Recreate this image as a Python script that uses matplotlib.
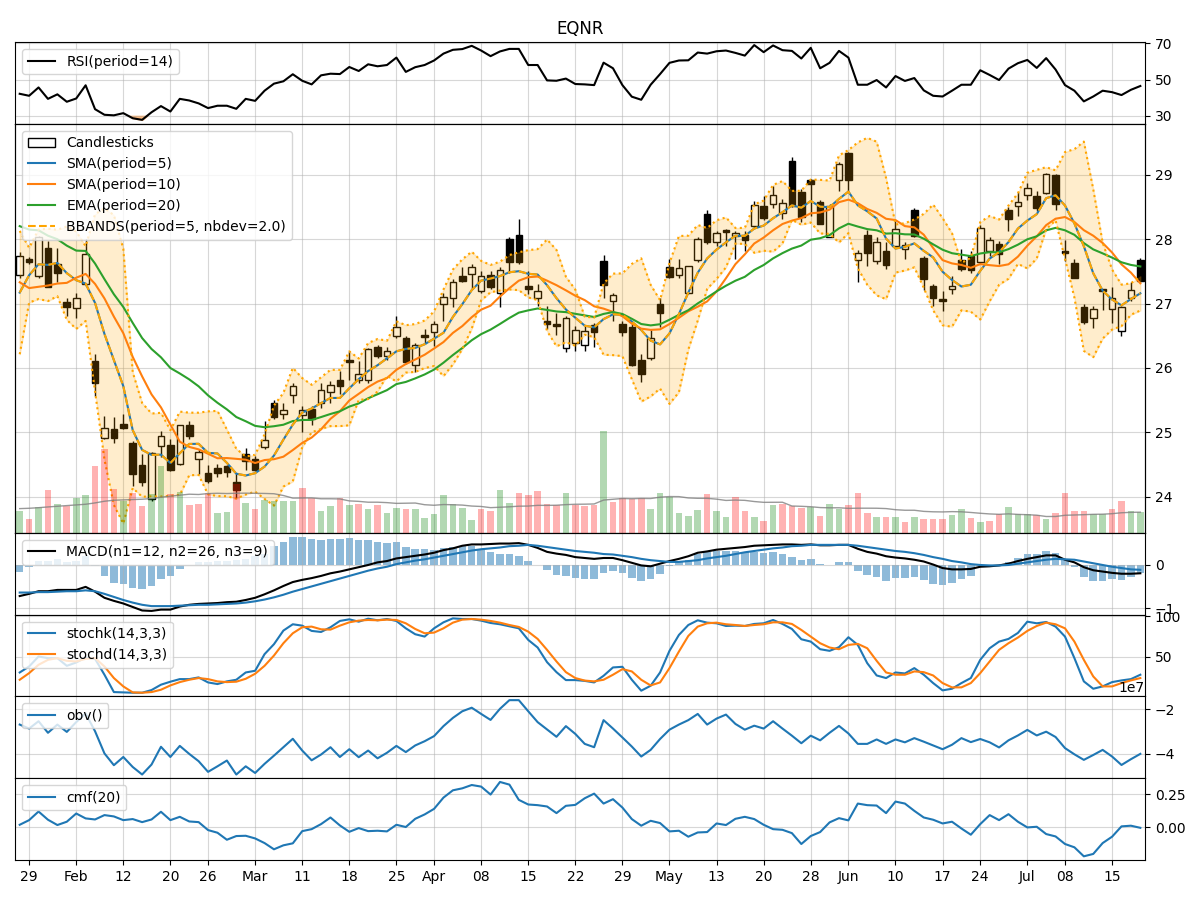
import numpy as np
import pandas as pd
import matplotlib
matplotlib.use("Agg")
import matplotlib.pyplot as plt
from matplotlib.patches import Rectangle, Patch
from matplotlib.lines import Line2D

# ---------------- data ----------------
holidays = ["2024-02-19", "2024-03-29", "2024-05-27", "2024-06-19", "2024-07-04"]
dates = pd.bdate_range("2024-01-26", "2024-07-18", freq="C", holidays=holidays)

open_ = [27.45, 27.69, 27.42, 27.86, 27.62, 27.03, 26.93, 27.30, 26.11, 24.92,
         25.05, 25.13, 24.84, 24.49, 23.96, 24.79, 24.80, 24.51, 25.11, 24.59,
         24.37, 24.44, 24.48, 24.23, 24.66, 24.59, 24.77, 25.45, 25.28, 25.58,
         25.27, 25.36, 25.45, 25.63, 25.82, 26.12, 25.82, 25.82, 26.33, 26.18,
         26.49, 26.47, 26.04, 26.51, 26.56, 26.99, 27.09, 27.43, 27.46, 27.20,
         27.44, 27.16, 28.00, 28.06, 27.28, 27.09, 26.73, 26.68, 26.31, 26.38,
         26.36, 26.66, 27.66, 27.04, 26.69, 26.64, 26.12, 26.16, 26.99, 27.56,
         27.45, 27.16, 27.68, 28.39, 27.96, 28.14, 28.05, 28.06, 28.21, 28.51,
         28.54, 28.40, 29.21, 28.73, 28.92, 28.58, 28.04, 28.92, 29.33, 27.67,
         28.06, 27.66, 27.81, 27.90, 27.85, 28.45, 27.70, 27.28, 27.07, 27.22,
         27.68, 27.74, 27.64, 27.82, 27.92, 28.45, 28.52, 28.68, 28.67, 28.72,
         28.99, 27.82, 27.63, 26.94, 26.77, 27.22, 26.91, 26.58, 27.09, 27.67]
high = [27.80, 27.73, 28.05, 27.97, 27.86, 27.09, 27.17, 28.00, 26.22, 25.26,
        25.24, 25.28, 24.87, 24.66, 24.70, 25.02, 24.89, 25.12, 25.18, 24.74,
        24.50, 24.51, 24.50, 24.37, 24.76, 24.63, 25.18, 25.51, 25.46, 25.76,
        25.41, 25.41, 25.77, 25.80, 25.95, 26.26, 26.11, 26.31, 26.36, 26.32,
        26.80, 26.50, 26.39, 26.60, 26.73, 27.17, 27.38, 27.56, 27.62, 27.51,
        27.51, 27.56, 28.04, 28.31, 27.51, 27.31, 26.96, 26.86, 26.81, 26.65,
        26.65, 26.70, 27.75, 27.17, 26.73, 26.68, 26.21, 26.59, 27.09, 27.69,
        27.69, 27.59, 28.04, 28.45, 28.13, 28.16, 28.13, 28.13, 28.59, 28.67,
        28.83, 28.62, 29.28, 28.78, 28.93, 28.60, 28.54, 29.19, 29.35, 27.83,
        28.14, 28.03, 27.95, 28.28, 27.95, 28.48, 27.74, 27.30, 27.20, 27.43,
        27.84, 27.82, 28.22, 28.03, 27.97, 28.50, 28.73, 28.87, 28.75, 29.02,
        29.01, 27.98, 27.69, 26.99, 26.96, 27.22, 27.25, 26.96, 27.34, 27.70]
low = [27.40, 27.61, 27.40, 27.25, 27.33, 26.81, 26.78, 27.27, 25.56, 24.89,
       24.84, 25.05, 24.17, 24.17, 23.94, 24.61, 24.40, 24.50, 24.89, 24.35,
       24.22, 24.30, 24.30, 23.98, 24.42, 24.40, 24.74, 25.20, 25.20, 25.46,
       25.00, 25.12, 25.38, 25.46, 25.59, 25.82, 25.77, 25.77, 26.16, 26.13,
       26.47, 26.06, 25.93, 26.37, 26.34, 26.73, 26.95, 27.33, 27.22, 27.17,
       27.22, 26.95, 27.48, 27.61, 27.15, 26.96, 26.60, 26.51, 26.24, 26.26,
       26.26, 26.33, 27.09, 26.73, 26.50, 26.03, 25.78, 26.13, 26.63, 27.40,
       27.40, 27.15, 27.64, 27.92, 27.90, 27.90, 27.69, 27.82, 28.18, 28.29,
       28.48, 28.31, 28.50, 28.26, 28.36, 28.23, 28.03, 28.75, 28.73, 27.33,
       27.59, 27.61, 27.53, 27.88, 27.69, 28.03, 27.21, 26.96, 26.89, 27.15,
       27.51, 27.48, 27.62, 27.74, 27.62, 28.12, 28.36, 28.60, 28.44, 28.70,
       28.45, 27.66, 27.39, 26.69, 26.62, 26.90, 26.70, 26.50, 27.04, 27.33]
close = [27.74, 27.64, 28.03, 27.26, 27.48, 26.95, 27.09, 27.77, 25.76, 25.07,
         24.92, 25.07, 24.35, 24.23, 24.68, 24.94, 24.42, 25.11, 24.95, 24.69,
         24.24, 24.37, 24.38, 24.11, 24.55, 24.42, 24.88, 25.24, 25.34, 25.72,
         25.35, 25.20, 25.66, 25.74, 25.72, 26.10, 25.91, 26.29, 26.19, 26.26,
         26.64, 26.10, 26.36, 26.48, 26.69, 27.10, 27.33, 27.35, 27.57, 27.43,
         27.26, 27.52, 27.65, 27.65, 27.23, 27.20, 26.69, 26.65, 26.77, 26.59,
         26.58, 26.56, 27.29, 27.14, 26.56, 26.05, 25.91, 26.46, 26.85, 27.41,
         27.55, 27.58, 28.00, 27.96, 28.10, 28.11, 28.09, 27.99, 28.53, 28.33,
         28.68, 28.56, 28.52, 28.35, 28.85, 28.24, 28.52, 29.16, 28.92, 27.78,
         27.78, 27.96, 27.60, 28.15, 27.91, 28.05, 27.38, 27.09, 27.04, 27.27,
         27.54, 27.52, 28.17, 27.99, 27.77, 28.32, 28.57, 28.79, 28.49, 29.01,
         28.54, 27.78, 27.40, 26.72, 26.91, 27.19, 27.09, 26.95, 27.21, 27.35]
# closes of the nine sessions before the window (for the moving averages)
pre_close = [28.54, 27.83, 27.06, 27.18, 26.84, 26.29, 27.18, 27.31, 27.33]
ema20_seed = 28.25

volume_m = [2.6, 1.7, 3.1, 5.1, 3.4, 3.2, 4.2, 4.5, 8.0, 10.0,
            5.2, 3.8, 4.7, 3.2, 4.6, 8.0, 4.6, 4.9, 3.3, 3.4,
            4.8, 2.4, 2.5, 5.8, 3.6, 2.8, 3.9, 3.8, 3.8, 3.8,
            5.4, 4.1, 2.6, 3.2, 4.2, 3.3, 3.5, 2.9, 3.3, 2.4,
            3.0, 2.8, 2.9, 1.8, 2.3, 4.5, 3.4, 3.0, 1.5, 2.8,
            2.6, 5.1, 3.6, 4.7, 4.5, 5.0, 3.4, 3.3, 4.7, 3.3,
            3.2, 3.3, 12.2, 3.7, 4.1, 4.0, 4.1, 2.8, 4.7, 4.3,
            2.4, 2.0, 2.7, 4.6, 2.6, 1.9, 4.3, 2.6, 1.9, 1.4,
            3.3, 3.4, 3.2, 3.0, 3.1, 2.0, 3.5, 2.9, 3.3, 4.7,
            2.4, 1.9, 1.9, 1.9, 1.3, 1.9, 1.6, 1.6, 1.6, 2.1,
            2.9, 1.8, 1.3, 1.4, 2.2, 3.1, 2.2, 2.2, 2.1, 1.6,
            2.4, 4.8, 2.6, 2.6, 2.2, 2.2, 2.8, 3.8, 2.6, 2.5]
# 20-day average volume as drawn for the first 19 sessions (millions)
vol_ma_head = [2.89, 2.93, 3.00, 3.09, 3.17, 3.25, 3.33, 3.41, 3.57, 3.77,
               3.89, 3.93, 3.97, 4.01, 4.09, 4.25, 4.37, 4.49, 4.61]

rsi = [42.2, 41.1, 45.7, 39.4, 41.9, 37.8, 39.6, 46.9, 33.7, 30.6,
       30.3, 31.5, 28.7, 27.8, 32.0, 35.4, 32.4, 39.4, 38.5, 36.9,
       34.3, 35.6, 35.6, 33.9, 39.4, 38.3, 43.9, 47.8, 49.1, 53.0,
       49.4, 47.4, 52.4, 53.3, 53.1, 57.0, 54.8, 58.5, 57.4, 58.1,
       62.2, 54.3, 56.9, 58.1, 60.6, 64.4, 66.5, 66.9, 68.7, 66.1,
       63.0, 65.6, 67.0, 67.0, 58.1, 58.1, 49.6, 49.4, 50.6, 47.6,
       47.4, 47.0, 59.4, 56.3, 47.0, 40.6, 38.9, 47.2, 53.1, 59.3,
       60.6, 60.7, 65.0, 64.4, 65.7, 66.1, 64.8, 63.3, 69.1, 65.2,
       68.9, 66.3, 65.9, 61.7, 67.6, 56.3, 59.3, 65.9, 62.2, 47.2,
       47.2, 49.8, 45.7, 52.0, 49.3, 50.9, 44.1, 41.1, 40.7, 43.9,
       47.2, 47.2, 55.2, 52.6, 49.8, 56.1, 59.1, 60.9, 56.5, 61.9,
       55.6, 47.0, 43.9, 38.0, 40.7, 43.9, 43.1, 41.5, 44.4, 46.5]

macd = [-0.72, -0.67, -0.61, -0.61, -0.58, -0.58, -0.58, -0.51, -0.62, -0.76,
        -0.83, -0.89, -0.97, -1.05, -1.06, -1.03, -1.03, -0.96, -0.92, -0.90,
        -0.89, -0.88, -0.86, -0.85, -0.81, -0.76, -0.68, -0.59, -0.49, -0.40,
        -0.35, -0.31, -0.26, -0.20, -0.16, -0.11, -0.06, -0.01, 0.05, 0.08,
        0.14, 0.17, 0.20, 0.23, 0.27, 0.33, 0.37, 0.43, 0.46, 0.46,
        0.47, 0.48, 0.48, 0.49, 0.45, 0.38, 0.29, 0.25, 0.22, 0.17,
        0.15, 0.13, 0.15, 0.15, 0.10, 0.04, -0.02, -0.04, 0.02, 0.08,
        0.13, 0.19, 0.27, 0.30, 0.34, 0.36, 0.38, 0.40, 0.43, 0.44,
        0.45, 0.46, 0.46, 0.45, 0.46, 0.44, 0.44, 0.45, 0.45, 0.36,
        0.29, 0.25, 0.19, 0.16, 0.14, 0.11, 0.07, 0.00, -0.08, -0.11,
        -0.11, -0.10, -0.05, -0.04, -0.02, 0.02, 0.08, 0.13, 0.17, 0.21,
        0.21, 0.11, 0.05, -0.06, -0.13, -0.16, -0.19, -0.21, -0.21, -0.20]
signal = [-0.64, -0.64, -0.63, -0.63, -0.62, -0.61, -0.61, -0.59, -0.61, -0.67,
          -0.74, -0.81, -0.87, -0.92, -0.95, -0.95, -0.95, -0.94, -0.93, -0.92,
          -0.92, -0.91, -0.90, -0.89, -0.87, -0.84, -0.80, -0.75, -0.69, -0.62,
          -0.56, -0.50, -0.44, -0.38, -0.32, -0.26, -0.20, -0.14, -0.09, -0.05,
          0.01, 0.05, 0.09, 0.12, 0.16, 0.20, 0.24, 0.28, 0.32, 0.35,
          0.37, 0.39, 0.42, 0.43, 0.45, 0.43, 0.40, 0.37, 0.34, 0.31,
          0.29, 0.27, 0.24, 0.23, 0.20, 0.17, 0.13, 0.10, 0.08, 0.06,
          0.06, 0.08, 0.10, 0.14, 0.17, 0.20, 0.24, 0.28, 0.31, 0.34,
          0.37, 0.39, 0.42, 0.43, 0.45, 0.45, 0.45, 0.45, 0.45, 0.43,
          0.40, 0.37, 0.34, 0.31, 0.29, 0.26, 0.22, 0.17, 0.13, 0.08,
          0.05, 0.01, -0.01, -0.02, -0.02, -0.01, 0.02, 0.05, 0.08, 0.11,
          0.13, 0.12, 0.11, 0.07, 0.03, -0.01, -0.05, -0.08, -0.11, -0.12]
hist = [-0.17, -0.05, 0.08, 0.08, 0.13, 0.06, 0.08, 0.19, -0.04, -0.27,
        -0.42, -0.44, -0.53, -0.57, -0.48, -0.34, -0.27, -0.11, -0.02, 0.06,
        0.06, 0.08, 0.09, 0.10, 0.13, 0.19, 0.25, 0.43, 0.52, 0.64,
        0.63, 0.58, 0.57, 0.59, 0.59, 0.61, 0.57, 0.55, 0.52, 0.49,
        0.52, 0.40, 0.36, 0.36, 0.34, 0.38, 0.40, 0.42, 0.42, 0.34,
        0.28, 0.24, 0.23, 0.19, 0.09, -0.01, -0.13, -0.23, -0.27, -0.30,
        -0.33, -0.33, -0.20, -0.15, -0.19, -0.30, -0.38, -0.34, -0.21, -0.04,
        0.06, 0.11, 0.24, 0.28, 0.30, 0.30, 0.30, 0.28, 0.28, 0.27,
        0.28, 0.23, 0.17, 0.11, 0.13, 0.02, 0.00, 0.06, 0.06, -0.14,
        -0.24, -0.29, -0.38, -0.30, -0.30, -0.29, -0.36, -0.45, -0.47, -0.42,
        -0.34, -0.27, -0.02, -0.01, 0.00, 0.06, 0.15, 0.24, 0.25, 0.32,
        0.27, 0.11, -0.05, -0.29, -0.38, -0.38, -0.34, -0.36, -0.29, -0.20]

stochk = [30.3, 37.7, 50.0, 48.0, 48.0, 38.5, 42.6, 48.8, 47.1, 27.5,
          6.1, 5.7, 5.3, 5.3, 8.6, 15.2, 18.9, 22.1, 22.1, 24.2,
          18.0, 16.0, 19.3, 21.3, 30.3, 32.4, 52.9, 65.2, 82.0, 89.8,
          88.1, 81.6, 80.3, 86.1, 93.9, 95.9, 93.0, 96.7, 94.7, 96.3,
          93.9, 84.8, 77.5, 74.6, 84.8, 92.2, 97.1, 96.3, 96.3, 94.3,
          91.4, 89.8, 87.3, 84.8, 70.5, 61.1, 43.0, 30.7, 20.9, 20.9,
          19.9, 18.0, 26.2, 36.5, 37.3, 21.3, 7.8, 13.9, 30.3, 57.0,
          76.6, 88.9, 94.7, 91.8, 91.0, 87.7, 88.1, 87.7, 90.2, 91.0,
          95.1, 90.2, 84.0, 71.3, 68.4, 59.0, 57.0, 61.5, 73.8, 64.3,
          41.8, 26.6, 23.4, 30.3, 29.1, 35.7, 27.5, 17.2, 8.2, 10.2,
          17.2, 23.4, 45.9, 60.2, 68.4, 71.7, 79.1, 93.0, 91.0, 92.6,
          86.9, 74.6, 48.0, 19.3, 10.2, 13.1, 18.4, 20.5, 22.1, 27.5]
stochd = [21.3, 29.5, 39.8, 45.9, 48.0, 44.7, 43.9, 47.1, 48.0, 37.7,
          23.4, 13.1, 5.7, 5.3, 6.1, 9.0, 14.3, 18.4, 21.3, 23.4,
          22.1, 19.3, 18.4, 18.9, 22.5, 28.7, 38.5, 51.2, 66.4, 78.7,
          86.1, 86.9, 83.6, 83.2, 88.1, 92.2, 94.3, 95.1, 94.7, 95.5,
          95.1, 91.0, 84.0, 78.7, 79.5, 84.8, 91.8, 95.5, 96.3, 95.5,
          93.9, 91.8, 88.9, 86.5, 80.7, 71.7, 58.2, 43.9, 30.7, 23.4,
          20.3, 19.3, 21.3, 27.5, 34.4, 31.6, 21.3, 14.3, 18.0, 35.7,
          56.1, 75.4, 86.9, 91.0, 91.8, 89.8, 88.9, 87.7, 88.9, 89.8,
          92.2, 92.2, 90.2, 82.8, 74.6, 66.4, 61.1, 59.0, 64.3, 65.6,
          60.2, 44.7, 30.3, 27.5, 27.5, 31.6, 30.7, 26.6, 17.2, 11.9,
          11.9, 17.2, 29.5, 43.9, 58.2, 66.4, 73.4, 81.6, 87.7, 91.8,
          89.8, 84.8, 68.4, 45.9, 25.4, 13.1, 13.1, 17.2, 20.5, 23.4]

obv_1e7 = [-2.68, -2.86, -2.53, -3.05, -2.68, -3.01, -2.57, -2.18, -2.98, -3.98,
           -4.51, -4.14, -4.59, -4.93, -4.48, -3.68, -4.14, -3.64, -4.00, -4.33,
           -4.81, -4.56, -4.30, -4.93, -4.56, -4.86, -4.45, -4.08, -3.70, -3.32,
           -3.85, -4.29, -4.03, -3.70, -4.14, -3.79, -4.15, -3.85, -4.20, -3.95,
           -3.64, -3.92, -3.62, -3.43, -3.20, -2.75, -2.38, -2.08, -1.92, -2.20,
           -2.47, -1.97, -1.58, -1.58, -2.08, -2.57, -2.90, -3.23, -2.75, -3.10,
           -3.55, -3.70, -2.48, -2.86, -3.26, -3.67, -4.12, -3.82, -3.33, -2.91,
           -2.68, -2.48, -2.20, -2.68, -2.41, -2.23, -2.65, -2.91, -2.73, -2.86,
           -2.53, -2.86, -3.18, -3.52, -3.18, -3.39, -3.05, -2.74, -3.08, -3.55,
           -3.55, -3.35, -3.55, -3.35, -3.48, -3.29, -3.45, -3.62, -3.79, -3.59,
           -3.29, -3.47, -3.33, -3.48, -3.71, -3.39, -3.17, -2.92, -3.17, -3.00,
           -3.24, -3.74, -4.02, -4.27, -4.05, -3.82, -4.12, -4.50, -4.24, -4.00]

cmf = [0.020, 0.055, 0.120, 0.058, 0.018, 0.043, 0.105, 0.068, 0.060, 0.093,
       0.083, 0.055, 0.063, 0.040, 0.060, 0.118, 0.055, 0.080, 0.045, 0.040,
       -0.020, -0.040, -0.093, -0.065, -0.063, -0.083, -0.118, -0.165, -0.135, -0.120,
       -0.028, -0.013, 0.025, 0.075, 0.015, -0.033, -0.005, -0.028, -0.025, -0.030,
       0.020, 0.003, 0.065, 0.098, 0.140, 0.225, 0.280, 0.295, 0.320, 0.308,
       0.248, 0.343, 0.323, 0.208, 0.173, 0.168, 0.158, 0.108, 0.163, 0.170,
       0.220, 0.255, 0.180, 0.213, 0.150, 0.063, 0.013, 0.050, 0.033, -0.030,
       -0.025, -0.070, -0.038, -0.035, 0.030, 0.018, 0.065, 0.080, 0.063, 0.020,
       -0.013, -0.018, -0.043, -0.125, -0.065, -0.035, 0.038, 0.070, 0.053, 0.180,
       0.168, 0.165, 0.108, 0.195, 0.180, 0.125, 0.075, 0.058, 0.030, 0.043,
       -0.008, -0.055, 0.025, 0.093, 0.055, 0.100, 0.043, 0.000, 0.005, -0.050,
       -0.068, -0.125, -0.150, -0.218, -0.200, -0.118, -0.070, 0.008, 0.013, -0.003]

n = len(dates)
for arr in (open_, high, low, close, volume_m, rsi, macd, signal, hist,
            stochk, stochd, obv_1e7, cmf):
    assert len(arr) == n, len(arr)

# ---------------- derived indicator lines ----------------
x = np.arange(n)
o = np.array(open_); h = np.array(high); l = np.array(low); c = np.array(close)
volume = np.array(volume_m) * 1e6
obv = np.array(obv_1e7) * 1e7
rsi = np.array(rsi)

c_all = pd.Series(pre_close + close)
k0 = len(pre_close)
sma5 = c_all.rolling(5).mean().to_numpy()[k0:]
std5 = c_all.rolling(5).std(ddof=0).to_numpy()[k0:]
sma10 = c_all.rolling(10).mean().to_numpy()[k0:]
bb_up = sma5 + 2.0 * std5
bb_lo = sma5 - 2.0 * std5
ema20 = pd.Series([ema20_seed] + close).ewm(span=20, adjust=False).mean().to_numpy()[1:]
vol_ma = np.concatenate([np.array(vol_ma_head) * 1e6,
                         pd.Series(volume).rolling(20).mean().to_numpy()[len(vol_ma_head):]])
prev_c = np.concatenate([[pre_close[-1]], c[:-1]])
up_day = c > prev_c

# ---------------- figure ----------------
fig = plt.figure(figsize=(12, 9), dpi=100)
gs = fig.add_gridspec(6, 1, height_ratios=[1, 5, 1, 1, 1, 1],
                      left=0.0125, right=0.9542, top=0.9533, bottom=0.0444, hspace=0)
ax_rsi = fig.add_subplot(gs[0])
axs = [ax_rsi] + [fig.add_subplot(gs[k], sharex=ax_rsi) for k in range(1, 6)]
ax_rsi, ax_main, ax_macd, ax_st, ax_obv, ax_cmf = axs

# volume on a twin of the price axis (created first, so the price ticks stay right)
ax_v = ax_main.twinx()

for ax in axs:
    ax.yaxis.tick_right()
    ax.grid(True, alpha=0.5)
    ax.tick_params(labelbottom=False)
ax_cmf.tick_params(labelbottom=True)

# RSI
ax_rsi.plot(x, rsi, color="black", lw=1.5, label="RSI(period=14)")
ax_rsi.fill_between(x, rsi, 30, where=rsi < 30, interpolate=True, color="C1", alpha=0.5)
ax_rsi.set_yticks([30, 50, 70])
ax_rsi.set_ylim(25.6, 70.8)
ax_rsi.legend(loc="upper left")
ax_rsi.set_title("EQNR", fontsize=12)

# main: candles
w = 0.7
ax_main.vlines(x, l, h, color="black", lw=1, zorder=1.6)
for i in range(n):
    bottom = min(o[i], c[i])
    height = abs(c[i] - o[i])
    fc = "white" if c[i] >= o[i] else "black"
    ax_main.add_patch(Rectangle((x[i] - w / 2, bottom), w, height, facecolor=fc,
                                edgecolor="black", lw=1, zorder=2))
ax_main.fill_between(x, bb_lo, bb_up, color="orange", alpha=0.2, zorder=2.5)
ax_main.plot(x, sma5, color="C0", lw=1.5, zorder=3)
ax_main.plot(x, sma10, color="C1", lw=1.5, zorder=3)
ax_main.plot(x, ema20, color="C2", lw=1.5, zorder=3)
ax_main.plot(x, sma5, color="orange", lw=1.5, ls="--", zorder=3.1)
ax_main.plot(x, bb_up, color="orange", lw=1.5, ls=":", zorder=3.1)
ax_main.plot(x, bb_lo, color="orange", lw=1.5, ls=":", zorder=3.1)
ax_main.set_ylim(23.44, 29.79)
handles = [Patch(facecolor="white", edgecolor="black", label="Candlesticks"),
           Line2D([], [], color="C0", lw=1.5, label="SMA(period=5)"),
           Line2D([], [], color="C1", lw=1.5, label="SMA(period=10)"),
           Line2D([], [], color="C2", lw=1.5, label="EMA(period=20)"),
           Line2D([], [], color="orange", lw=1.5, ls="--", label="BBANDS(period=5, nbdev=2.0)")]
ax_main.legend(handles=handles, loc="upper left")

vcol = np.where(up_day, "green", "red")
ax_v.bar(x, volume, width=w, color=vcol, alpha=0.3)
ax_v.plot(x, vol_ma, color="gray", lw=1, alpha=0.8)
ax_v.set_ylim(0, volume.max() * 4)
ax_v.set_yticks([])
ax_v.tick_params(labelleft=False, labelright=False, left=False, right=False)

# MACD
ax_macd.bar(x, hist, width=0.8, color="C0", alpha=0.5)
ax_macd.plot(x, macd, color="black", lw=1.5, label="MACD(n1=12, n2=26, n3=9)")
ax_macd.plot(x, signal, color="C0", lw=1.5)
ax_macd.set_yticks([-1, 0])
ax_macd.legend(loc="upper left")

# Stochastic
ax_st.plot(x, stochk, color="C0", lw=1.5, label="stochk(14,3,3)")
ax_st.plot(x, stochd, color="C1", lw=1.5, label="stochd(14,3,3)")
ax_st.set_yticks([50, 100])
ax_st.legend(loc="upper left")

# OBV
ax_obv.plot(x, obv, color="C0", lw=1.5, label="obv()")
ax_obv.set_yticks([-4e7, -2e7])
ax_obv.legend(loc="upper left")

# CMF
ax_cmf.plot(x, cmf, color="C0", lw=1.5, label="cmf(20)")
ax_cmf.set_yticks([0.0, 0.25])
ax_cmf.legend(loc="upper left")

# x ticks: first session of each week
tick_pos, tick_lab = [], []
prev_month = None
for i in range(1, n):
    if dates[i].isocalendar().week != dates[i - 1].isocalendar().week:
        d = dates[i]
        lab = d.strftime("%b") if (prev_month is not None and d.month != prev_month) else d.strftime("%d")
        prev_month = d.month
        tick_pos.append(i)
        tick_lab.append(lab)
ax_cmf.set_xticks(tick_pos)
ax_cmf.set_xticklabels(tick_lab)
ax_cmf.set_xlim(-0.5, n - 0.5)

fig.savefig("out.png", dpi=100)
